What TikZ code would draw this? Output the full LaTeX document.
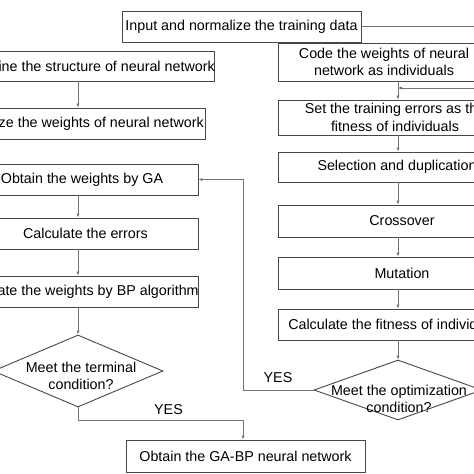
\documentclass[tikz,border=0pt]{standalone}
\usepackage{fontspec}
\setmainfont{Liberation Sans}
\usetikzlibrary{shapes.geometric,arrows.meta}
\begin{document}
\begin{tikzpicture}[x=1pt,y=-1pt,
  every node/.style={font=\fontsize{14.3}{17.5}\selectfont},
  box/.style={draw=black!72,line width=0.9pt,rectangle,inner sep=0pt,align=center},
  dia/.style={draw=black!72,line width=0.9pt,diamond,inner sep=0pt},
  txt/.style={inner sep=0pt,align=center},
  arr/.style={draw=black!55,line width=0.8pt,-{Latex[length=4pt,width=3.2pt]}},
  ln/.style={draw=black!55,line width=0.8pt}]
\path[use as bounding box] (0,0) rectangle (474,474);
\clip (0,0) rectangle (474,474);
\fill[white] (0,0) rectangle (474,474);
\coordinate (lx) at (78,0);
\coordinate (rx) at (398,0);
\coordinate (yx) at (243,0);
% top
\node[box,minimum width=239,minimum height=31] (inp) at (241.5,26.5) {Input and normalize the training data};
\coordinate (ext) at (490,26.5);
% left column
\node[box,minimum width=237,minimum height=30] (def) at (95.5,66) {Define the structure of neural network};
\node[box,minimum width=244,minimum height=31] (ini) at (83,123.5) {Initialize the weights of neural network};
\node[box,minimum width=232,minimum height=31] (ga) at (82,179.5) {Obtain the weights by GA};
\node[box,minimum width=225,minimum height=31] (err) at (85.5,233.5) {Calculate the errors};
\node[box,minimum width=224,minimum height=31] (bp) at (85,291.5) {Update the weights by BP algorithm};
\node[dia,minimum width=170,minimum height=72] (term) at (78,371) {};
\node[txt] (termt) at (81,376) {Meet the terminal\\condition?};
% right column
\node[box,minimum width=212,minimum height=38] (code) at (384,62) {Code the weights of neural\\network as individuals};
\node[box,minimum width=234,minimum height=35] (set) at (395,117.5) {Set the training errors as the\\fitness of individuals};
\node[box,minimum width=238,minimum height=30] (sel) at (397,167) {Selection and duplication};
\node[box,minimum width=248,minimum height=32] (cro) at (402,221) {Crossover};
\node[box,minimum width=248,minimum height=32] (mut) at (402,273) {Mutation};
\node[box,minimum width=236,minimum height=31] (fit) at (396,324.5) {Calculate the fitness of individuals};
\node[dia,minimum width=168,minimum height=60] (opt) at (398,390) {};
\node[txt] (optt) at (399,399) {Meet the optimization\\condition?};
% final
\node[box,minimum width=239,minimum height=32] (fin) at (245.5,456) {Obtain the GA-BP neural network};
% labels
\node[txt] (yes1) at (168.5,410) {YES};
\node[txt] (yes2) at (278,378) {YES};
\coordinate (fb) at (490,88);
% connectors
\draw[ln] (inp.east) -- (ext);
\draw[arr] (def.south -| lx) -- (ini.north -| lx);
\draw[arr] (ga.south -| lx) -- (err.north -| lx);
\draw[arr] (err.south -| lx) -- (bp.north -| lx);
\draw[arr] (bp.south -| lx) -- (term.north);
\draw[arr] (term.south) -- (78,420) -- (yx |- 0,420) -- (fin.north -| yx);
\draw[arr] (code.south -| rx) -- (set.north -| rx);
\draw[arr] (fb) -- (fb -| rx);
\draw[arr] (set.south -| rx) -- (sel.north -| rx);
\draw[arr] (sel.south -| rx) -- (cro.north -| rx);
\draw[arr] (cro.south -| rx) -- (mut.north -| rx);
\draw[arr] (mut.south -| rx) -- (fit.north -| rx);
\draw[arr] (fit.south -| rx) -- (opt.north);
\draw[arr] (opt.west) -- (opt.west -| yx) -- (yx |- ga.east) -- (ga.east);
\end{tikzpicture}
\end{document}
